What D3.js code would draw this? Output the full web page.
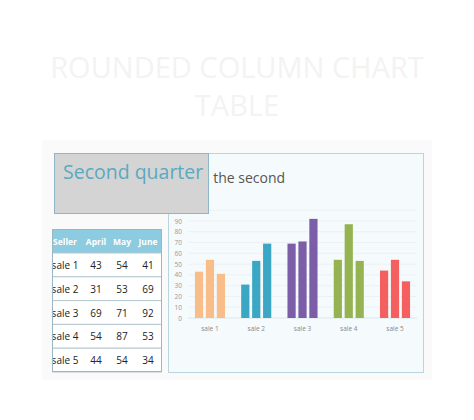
<!DOCTYPE html>
<html>
<head>
<meta charset="UTF-8">
<style>
  body { margin: 0; background: #fff; font-family: "Open Sans", "Noto Sans", sans-serif; }
</style>
</head>
<body>
<svg id="chart" width="474" height="420"></svg>
<script src="https://d3js.org/d3.v7.min.js"></script>
<script>
const sellers = ["sale 1", "sale 2", "sale 3", "sale 4", "sale 5"];
const months = ["April", "May", "June"];
const april = [43, 31, 69, 54, 44];
const may = [54, 53, 71, 87, 54];
const june = [41, 69, 92, 53, 34];
const colors = ["#f8bd88", "#3ba7c4", "#7b5ea7", "#95b451", "#f4605f"];
const yTicks = [0, 10, 20, 30, 40, 50, 60, 70, 80, 90];

const svg = d3.select("#chart");

// faint background title
svg.selectAll(".bgtitle").data(["ROUNDED COLUMN CHART", "TABLE"]).enter()
  .append("text")
  .attr("x", 237).attr("y", (d, i) => 78 + i * 38)
  .attr("text-anchor", "middle")
  .attr("font-size", 29)
  .attr("fill", "#f3f3f3")
  .text(d => d);

svg.append("rect").attr("x", 42).attr("y", 140).attr("width", 390).attr("height", 240)
  .attr("fill", "#fafafa");

// chart panel
svg.append("rect").attr("x", 168.5).attr("y", 153.5).attr("width", 255).attr("height", 219)
  .attr("fill", "#f5fafd").attr("stroke", "#b9d5df");

svg.append("text").attr("x", 201).attr("y", 183).attr("font-size", 14).attr("fill", "#555")
  .text("n the second");

// bar chart
const x = d3.scaleBand().domain(sellers).range([188, 417]).paddingInner(0.35).paddingOuter(0.15);
const y = d3.scaleLinear().domain([0, 90]).range([318, 221]);
const xm = d3.scaleBand().domain(months).range([0, x.bandwidth()]).paddingInner(0.25);

const g = svg.append("g");
yTicks.concat([100]).forEach(t => {
  g.append("line").attr("x1", 188).attr("x2", 417).attr("y1", y(t)).attr("y2", y(t))
    .attr("stroke", t === 0 ? "#dde6ea" : "#edf1f3");
});
g.selectAll(".ytick").data(yTicks).enter().append("text")
  .attr("x", 182).attr("y", d => y(d) + 2.5).attr("text-anchor", "end")
  .attr("font-size", 6.5).attr("fill", "#999").text(d => d);

const series = [april, may, june];
sellers.forEach((s, i) => {
  series.forEach((vals, j) => {
    g.append("rect")
      .attr("x", x(s) + xm(months[j]))
      .attr("y", y(vals[i]))
      .attr("width", xm.bandwidth())
      .attr("height", y(0) - y(vals[i]))
      .attr("fill", colors[i]);
  });
});
g.selectAll(".xl").data(sellers).enter().append("text")
  .attr("x", d => x(d) + x.bandwidth() / 2).attr("y", 331)
  .attr("text-anchor", "middle").attr("font-size", 6.5).attr("fill", "#888").text(d => d);

// table
const tx = 52, tw = 110;
const colX = [tx + 13, 96, 122, 148];
svg.append("rect").attr("x", tx).attr("y", 229).attr("width", tw).attr("height", 24).attr("fill", "#8ccbe0");
["Seller"].concat(months).forEach((h, k) => {
  svg.append("text").attr("x", colX[k]).attr("y", 245).attr("text-anchor", "middle")
    .attr("font-size", 8.5).attr("font-weight", "bold").attr("fill", "#fff").text(h);
});
sellers.forEach((s, i) => {
  const ry = 253 + i * 23.8;
  svg.append("rect").attr("x", tx + 0.5).attr("y", ry).attr("width", tw - 1).attr("height", 23.8)
    .attr("fill", "#fff").attr("stroke", "#b5c8d0");
  const row = [s, april[i], may[i], june[i]];
  row.forEach((v, k) => {
    svg.append("text").attr("x", colX[k]).attr("y", ry + 16).attr("text-anchor", "middle")
      .attr("font-size", 10).attr("fill", "#222").text(v);
  });
});
svg.append("rect").attr("x", tx + 0.5).attr("y", 229.5).attr("width", tw - 1).attr("height", 142)
  .attr("fill", "none").attr("stroke", "#9ab8c4");

// overlay label box
svg.append("rect").attr("x", 54.5).attr("y", 153.5).attr("width", 154).attr("height", 60)
  .attr("fill", "#d4d4d4").attr("stroke", "#8db6c6");
svg.append("text").attr("x", 63).attr("y", 179).attr("font-size", 19.5).attr("fill", "#5aa9c0")
  .text("Second quarter");
</script>
</body>
</html>
